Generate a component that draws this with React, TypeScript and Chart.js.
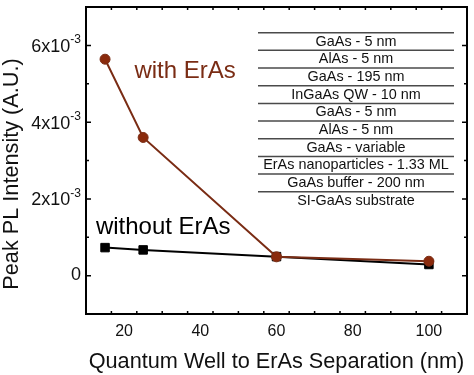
import React, { useEffect, useRef } from 'react';
import { Chart, registerables } from 'chart.js';

Chart.register(...registerables);

// ---- data ----
const separations = [15, 25, 60, 100];
const withErAs = [5.64e-3, 3.6e-3, 0.49e-3, 0.375e-3];
const withoutErAs = [0.73e-3, 0.67e-3, 0.495e-3, 0.29e-3];
const xTickValues = [20, 40, 60, 80, 100];
const yTickValues = [0, 2e-3, 4e-3, 6e-3];
const yTickMantissa = ['0', '2x10', '4x10', '6x10'];
const yTickExponent = ['', '-3', '-3', '-3'];
const layerNames = [
  'GaAs - 5 nm',
  'AlAs - 5 nm',
  'GaAs - 195 nm',
  'InGaAs QW - 10 nm',
  'GaAs - 5 nm',
  'AlAs - 5 nm',
  'GaAs - variable',
  'ErAs nanoparticles - 1.33 ML',
  'GaAs buffer - 200 nm',
  'SI-GaAs substrate',
];

const FONT = '"Liberation Sans", Arial, Helvetica, sans-serif';
const BROWN = '#7a2c14';

const decorPlugin = {
  id: 'decor',
  afterDatasetsDraw(chart: any) {
    const { ctx, chartArea } = chart;
    const xs = chart.scales.x;
    const ys = chart.scales.y;
    const { left, right, top, bottom } = chartArea;
    ctx.save();

    // table of layers
    const tL = left + 172;
    const tR = left + 368;
    const t0 = top + 25.7;
    const rowH = 17.67;
    ctx.strokeStyle = '#4a4a4a';
    ctx.lineWidth = 1.5;
    ctx.fillStyle = '#111';
    ctx.font = `14.4px ${FONT}`;
    ctx.textAlign = 'center';
    ctx.textBaseline = 'middle';
    layerNames.forEach((name, i) => {
      const ly = t0 + i * rowH;
      ctx.beginPath();
      ctx.moveTo(tL, ly);
      ctx.lineTo(tR, ly);
      ctx.stroke();
      ctx.fillText(name, (tL + tR) / 2, ly + 9);
    });

    // series labels
    ctx.textAlign = 'left';
    ctx.textBaseline = 'alphabetic';
    ctx.font = `24px ${FONT}`;
    ctx.fillStyle = BROWN;
    ctx.fillText('with ErAs', xs.getPixelForValue(22.7), ys.getPixelForValue(5.15e-3));
    ctx.fillStyle = '#000';
    ctx.fillText('without ErAs', xs.getPixelForValue(12.6), ys.getPixelForValue(1.08e-3));

    ctx.restore();
  },
  afterDraw(chart: any) {
    const { ctx, chartArea } = chart;
    const xs = chart.scales.x;
    const ys = chart.scales.y;
    const { left, right, top, bottom } = chartArea;
    ctx.save();
    ctx.strokeStyle = '#000';
    ctx.lineWidth = 2;
    ctx.strokeRect(left, top, right - left, bottom - top);

    ctx.lineWidth = 1.5;
    // x ticks (major every 20, minor every 20/3), inward on bottom and top
    for (let k = 0; k <= 15; k++) {
      const v = 10 + (k * 20) / 3;
      if (v <= xs.min + 0.01 || v >= xs.max - 0.01) continue;
      const px = xs.getPixelForValue(v);
      const major = Math.abs(v % 20) < 0.01 || Math.abs((v % 20) - 20) < 0.01;
      const len = major ? 5 : 3;
      ctx.beginPath();
      ctx.moveTo(px, bottom);
      ctx.lineTo(px, bottom - len);
      ctx.moveTo(px, top);
      ctx.lineTo(px, top + len);
      ctx.stroke();
    }
    // y ticks: major every 2e-3, minor every 1e-3
    for (let k = 0; k <= 6; k++) {
      const v = k * 1e-3;
      const py = ys.getPixelForValue(v);
      const len = k % 2 === 0 ? 5 : 3;
      ctx.beginPath();
      ctx.moveTo(left, py);
      ctx.lineTo(left + len, py);
      ctx.moveTo(right, py);
      ctx.lineTo(right - len, py);
      ctx.stroke();
    }

    // y tick labels with superscript exponents
    const labelRight = left - 5;
    ctx.fillStyle = '#111';
    yTickValues.forEach((v, i) => {
      const py = ys.getPixelForValue(v);
      const exp = yTickExponent[i];
      ctx.textAlign = 'right';
      if (exp) {
        ctx.font = `12px ${FONT}`;
        ctx.textBaseline = 'alphabetic';
        const ew = ctx.measureText(exp).width;
        ctx.fillText(exp, labelRight, py - 2);
        ctx.font = `18px ${FONT}`;
        ctx.textBaseline = 'middle';
        ctx.fillText(yTickMantissa[i], labelRight - ew, py + 1.5);
      } else {
        ctx.font = `18px ${FONT}`;
        ctx.textBaseline = 'middle';
        ctx.fillText(yTickMantissa[i], labelRight, py - 1);
      }
    });

    // y axis title
    ctx.save();
    ctx.translate(12, (top + bottom) / 2 + 13.5);
    ctx.rotate(-Math.PI / 2);
    ctx.font = `21.7px ${FONT}`;
    ctx.fillStyle = '#111';
    ctx.textAlign = 'center';
    ctx.textBaseline = 'middle';
    ctx.fillText('Peak PL Intensity (A.U.)', 0, 0);
    ctx.restore();

    ctx.restore();
  },
};

export default function App() {
  const canvasRef = useRef<HTMLCanvasElement | null>(null);

  useEffect(() => {
    document.body.style.margin = '0';
    const canvas = canvasRef.current;
    if (!canvas) return;
    const chart = new Chart(canvas, {
      type: 'line',
      data: {
        datasets: [
          {
            label: 'with ErAs',
            data: separations.map((x, i) => ({ x, y: withErAs[i] })),
            borderColor: BROWN,
            backgroundColor: '#8a2a0c',
            pointBackgroundColor: '#8a2a0c',
            pointBorderColor: BROWN,
            pointStyle: 'circle',
            pointRadius: 5,
            pointBorderWidth: 1,
            borderWidth: 2,
            tension: 0,
          },
          {
            label: 'without ErAs',
            data: separations.map((x, i) => ({ x, y: withoutErAs[i] })),
            borderColor: '#000',
            backgroundColor: '#000',
            pointBackgroundColor: '#000',
            pointBorderColor: '#000',
            pointStyle: 'rect',
            pointRadius: 6,
            pointBorderWidth: 1,
            borderWidth: 2,
            tension: 0,
          },
        ],
      },
      options: {
        responsive: false,
        animation: false,
        devicePixelRatio: 1,
        layout: { padding: { left: 0, right: 2, top: 1, bottom: 0 } },
        plugins: {
          legend: { display: false },
          tooltip: { enabled: false },
        },
        scales: {
          x: {
            type: 'linear',
            min: 10,
            max: 110,
            afterBuildTicks: (s: any) => {
              s.ticks = xTickValues.map((v) => ({ value: v }));
            },
            afterFit: (s: any) => {
              s.height = 61;
            },
            grid: { display: false, drawTicks: false },
            border: { display: false },
            ticks: {
              padding: 8,
              color: '#111',
              font: { family: FONT, size: 16 },
              maxRotation: 0,
              autoSkip: false,
            },
            title: {
              display: true,
              text: 'Quantum Well to ErAs Separation (nm)',
              color: '#111',
              font: { family: FONT, size: 21.7 },
              padding: 0,
            },
          },
          y: {
            type: 'linear',
            min: -1e-3,
            max: 7e-3,
            afterFit: (s: any) => {
              s.width = 86;
            },
            grid: { display: false, drawTicks: false },
            border: { display: false },
            ticks: { display: false },
          },
        },
      },
      plugins: [decorPlugin],
    });
    return () => chart.destroy();
  }, []);

  return (
    <div style={{ position: 'absolute', left: 0, top: 0, width: 474, height: 375 }}>
      <canvas ref={canvasRef} width={474} height={375} />
    </div>
  );
}
